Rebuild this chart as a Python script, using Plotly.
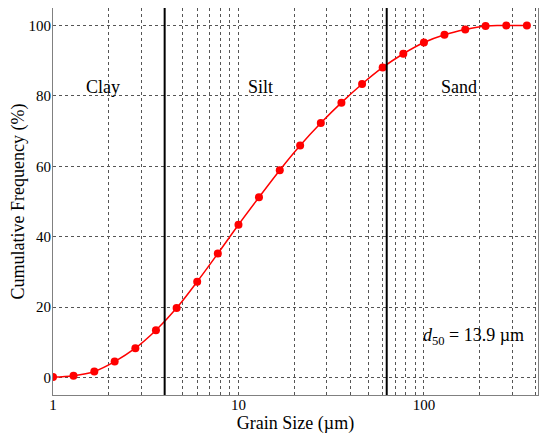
import numpy as np
import plotly.graph_objects as go

# grain size (um) and cumulative frequency (%)
grain_size = [1.0, 1.29, 1.67, 2.15, 2.78, 3.59, 4.64, 5.99, 7.74, 10.0,
              12.9, 16.7, 21.5, 27.8, 35.9, 46.4, 59.9, 77.4, 100.0,
              129, 167, 215, 278, 359]
cum_freq = [0.1, 0.5, 1.7, 4.5, 8.3, 13.4, 19.7, 27.2, 35.2, 43.4,
            51.2, 58.9, 65.9, 72.3, 78.1, 83.4, 88.1, 92.0, 95.2,
            97.4, 98.9, 99.9, 100.0, 100.0]

# class boundaries (um) and class names
boundaries = [4, 63]
class_names = ["Clay", "Silt", "Sand"]
class_label_x = [1.86, 13.1, 154]
class_label_y = 82.6

d50_text = "<i>d</i><sub>50</sub> = 13.9 µm"

# x grid at every 1-9 step of each decade, labels only on decades
x_mult = [m for e in range(3) for m in range(1, 10)]
x_tickvals = [m * 10 ** e for e in range(3) for m in range(1, 10)]
x_ticktext = [str(v) if m == 1 else "" for v, m in zip(x_tickvals, x_mult)]
y_tickvals = [0, 20, 40, 60, 80, 100]

FONT = "Liberation Serif"

fig = go.Figure()

fig.add_trace(go.Scatter(
    x=grain_size, y=cum_freq, mode="lines+markers",
    line=dict(color="red", width=1.5, shape="spline"),
    marker=dict(color="red", size=8),
    showlegend=False, hoverinfo="x+y",
))

for b in boundaries:
    fig.add_trace(go.Scatter(
        x=[b, b], y=[-5, 105], mode="lines",
        line=dict(color="black", width=2),
        showlegend=False, hoverinfo="skip",
    ))

for name, x in zip(class_names, class_label_x):
    fig.add_annotation(x=np.log10(x), y=class_label_y, text=name,
                       showarrow=False, font=dict(size=18, color="black"))

fig.add_annotation(x=np.log10(355), y=11.6, text=d50_text, xanchor="right",
                   showarrow=False, font=dict(size=18, color="black"))

axis_common = dict(
    showline=True, linecolor="#808080", linewidth=1, mirror=True,
    showgrid=True, gridcolor="#555555", gridwidth=1, griddash="dot",
    zeroline=False, ticks="", automargin=False,
    tickfont=dict(size=15, color="black", family=FONT),
)

fig.update_xaxes(
    type="log", range=[0, 2.615],
    tickmode="array", tickvals=x_tickvals, ticktext=x_ticktext,
    ticklabelstandoff=-4,
    title=dict(text="Grain Size (µm)", standoff=2,
               font=dict(size=18, color="black", family=FONT)),
    **axis_common,
)
fig.update_yaxes(
    range=[-5, 105], tickmode="array", tickvals=y_tickvals,
    ticklabelstandoff=-2,
    title=dict(text="Cumulative Frequency (%)", standoff=14,
               font=dict(size=18, color="black", family=FONT)),
    **axis_common,
)

# the page body adds an 8px margin, so the figure is sized/offset for it
fig.update_layout(
    width=542, height=432,
    margin=dict(l=45, r=12, t=0, b=45),
    plot_bgcolor="white", paper_bgcolor="white",
    font=dict(family=FONT, color="black"),
)

fig.write_html("out.html")
